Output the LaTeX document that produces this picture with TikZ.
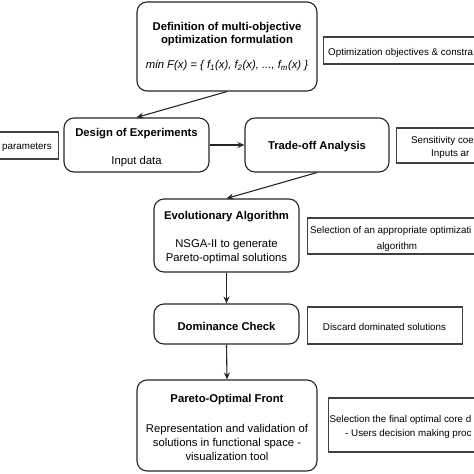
\documentclass[tikz,border=0pt]{standalone}
\usepackage{fontspec}
\setmainfont{Liberation Sans}
\usetikzlibrary{arrows.meta}
\tikzset{
  stepbox/.style={draw=black!85, line width=1.1pt, rounded corners=10pt, inner sep=0pt},
  sidebox/.style={draw=black!75, line width=1.1pt, inner sep=0pt},
  ttl/.style={font=\fontsize{11.3}{13}\selectfont\bfseries, align=center, inner sep=0pt, yshift=-2pt},
  txt/.style={font=\fontsize{11.3}{14}\selectfont, align=center, inner sep=0pt, yshift=-2pt},
  stxt/.style={font=\fontsize{9.8}{13}\selectfont, inner sep=0pt, yshift=-1.5pt},
  arr/.style={draw=black!85, line width=1.1pt, -{Stealth[length=7pt,width=6pt]}}
}
\begin{document}
\begin{tikzpicture}[x=1pt,y=-1pt]
\useasboundingbox (0,0) rectangle (474,474);
\clip (0,0) rectangle (474,474);
\fill[white] (0,0) rectangle (474,474);
% main boxes
\node[stepbox, minimum width=180pt, minimum height=89pt] (def) at (227,46.5) {};
\node[ttl] (deft) at (227,32.5) {Definition of multi-objective\\optimization formulation};
\node[txt, font=\fontsize{11.3}{14}\selectfont\itshape] (deff) at (227,64) {min F(x) = \{ f\textsubscript{1}(x), f\textsubscript{2}(x), ..., f\textsubscript{m}(x) \}};

\node[stepbox, minimum width=145pt, minimum height=54pt] (doe) at (136.5,145) {};
\node[ttl] (doet) at (136.5,131.5) {Design of Experiments};
\node[txt] (doei) at (136.5,160) {Input data};

\node[stepbox, minimum width=144pt, minimum height=54pt] (tra) at (317,145) {};
\node[ttl] (trat) at (317,145) {Trade-off Analysis};

\node[stepbox, minimum width=145pt, minimum height=73pt] (ea) at (226.5,235.5) {};
\node[ttl] (eat) at (226.5,214.5) {Evolutionary Algorithm};
\node[txt] (eai) at (226.5,250) {NSGA-II to generate\\Pareto-optimal solutions};

\node[stepbox, minimum width=145pt, minimum height=40pt] (dom) at (226.5,324) {};
\node[ttl] (domt) at (226.5,324) {Dominance Check};

\node[stepbox, minimum width=180pt, minimum height=91pt] (par) at (227,425.5) {};
\node[ttl] (part) at (227,397.5) {Pareto-Optimal Front};
\node[txt] (pari) at (227,440) {Representation and validation of\\solutions in functional space -\\visualization tool};

% side boxes
\node[sidebox, minimum width=200pt, minimum height=27pt, anchor=west] (s1) at (323,50.5) {};
\node[stxt, anchor=west] (s1t) at (328,51) {Optimization objectives \& constra};

\node[sidebox, minimum width=80pt, minimum height=27pt, anchor=east] (s0) at (59,145.5) {};
\node[stxt, anchor=east] (s0t) at (52,146) {parameters};

\node[sidebox, minimum width=150pt, minimum height=35pt, anchor=west] (s2) at (396,145.5) {};
\node[stxt, anchor=west] (s2a) at (411,139.5) {Sensitivity coe};
\node[stxt, anchor=west] (s2b) at (431,152.5) {Inputs ar};

\node[sidebox, minimum width=200pt, minimum height=36pt, anchor=west] (s3) at (307,236) {};
\node[stxt, anchor=west] (s3a) at (310,229.5) {Selection of an appropriate optimizati};
\node[stxt] (s3b) at (397,245) {algorithm};

\node[sidebox, minimum width=155pt, minimum height=37pt, anchor=west] (s4) at (307,325.5) {};
\node[stxt] (s4t) at (384.5,325.5) {Discard dominated solutions};

\node[sidebox, minimum width=200pt, minimum height=54pt, anchor=west] (s5) at (328,425) {};
\node[stxt, anchor=west] (s5a) at (329.5,418) {Selection the final optimal core d};
\node[stxt, anchor=west] (s5b) at (345,432) {- Users decision making proc};

% connectors
\draw[arr] (def.south) -- (doe.north);
\draw[arr] (doe.east) -- (tra.west);
\draw[arr] (tra.south) -- (ea.north);
\draw[arr] (ea.south) -- (dom.north);
\draw[arr] (dom.south) -- (par.north);
\end{tikzpicture}
\end{document}
